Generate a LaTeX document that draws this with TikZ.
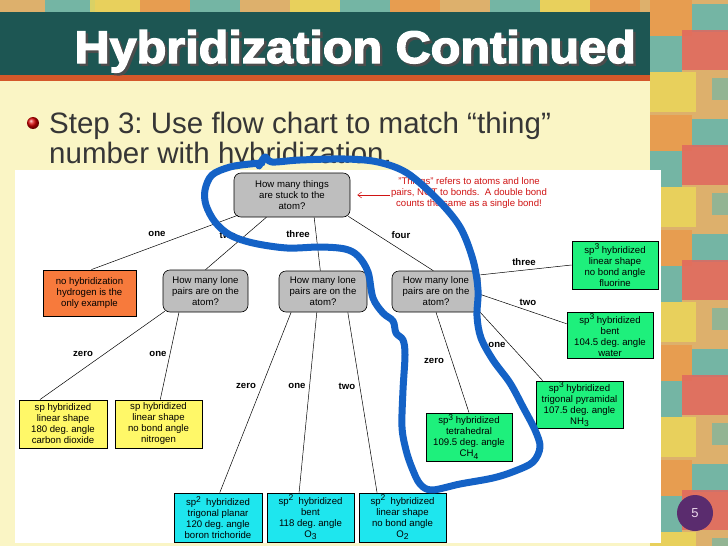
\documentclass[tikz,border=0pt]{standalone}
\usepackage{fontspec}
\setmainfont{Liberation Sans}
\newfontfamily\titlefont[FakeBold=3]{Liberation Sans Bold}
\usetikzlibrary{calc,arrows.meta,shadings}
\definecolor{bannerC}{HTML}{1D5653}
\definecolor{stripeC}{HTML}{D4582A}
\definecolor{paleC}{HTML}{FAF5C5}
\definecolor{qgray}{HTML}{BEBEBE}
\definecolor{orangeBox}{HTML}{F77A3C}
\definecolor{yellowBox}{HTML}{FFF868}
\definecolor{cyanBox}{HTML}{1EE6EE}
\definecolor{greenBox}{HTML}{1EF07C}
\definecolor{noteRed}{HTML}{D01414}
\definecolor{loopBlue}{HTML}{1462C6}
\definecolor{textGray}{HTML}{363636}
\definecolor{pTan}{HTML}{DDB06C}
\definecolor{pTeal}{HTML}{62B7AE}
\definecolor{pRed}{HTML}{E0675F}
\definecolor{pYellow}{HTML}{EBD65A}
\definecolor{pOrange}{HTML}{E99A4C}
\definecolor{numC}{HTML}{5A2C6E}
\newcommand\boxfont{\fontsize{9.6}{11}\selectfont}
\newcommand\lblfont{\bfseries\fontsize{9.6}{10}\selectfont}
\newcommand\hup[1]{\raisebox{3.2pt}{\fontsize{8.5}{8.5}\selectfont #1}}
\newcommand\hdown[1]{\raisebox{-2.8pt}{\fontsize{8.5}{8.5}\selectfont #1}}
\newcommand\titletext{\resizebox{561pt}{33pt}{\titlefont Hybridization Continued}}
\tikzset{
  qbox/.style={draw=black, line width=0.6pt, fill=qgray, rounded corners=7pt, align=center, inner sep=0pt, font=\boxfont},
  rbox/.style={draw=black, line width=0.8pt, align=center, inner sep=0pt, font=\boxfont},
  link/.style={draw=black, line width=0.5pt},
  lbl/.style={font=\lblfont, inner sep=0pt},
  patch/.style={draw=none, opacity=0.85},
}
\begin{document}
\frenchspacing
\begin{tikzpicture}[x=1pt,y=-1pt]
\useasboundingbox (0,0) rectangle (728,546);
% background texture
\fill[pTan] (0,0) rectangle (728,546);
\foreach \y in {0,115,230,345,460}{
  \fill[patch,pOrange] (650,\y) rectangle (692,\y+36);
  \fill[patch,pTeal] (692,\y+4) rectangle (728,\y+32);
  \fill[patch,pTeal] (650,\y+36) rectangle (682,\y+72);
  \fill[patch,pRed] (682,\y+30) rectangle (728,\y+70);
  \fill[patch,pYellow] (650,\y+72) rectangle (696,\y+112);
  \fill[patch,pTan] (696,\y+70) rectangle (728,\y+115);
  \fill[patch,pTeal,opacity=0.6] (712,\y+78) rectangle (728,\y+100);
}
\foreach \x/\c in {0/pTan,45/pTeal,90/pYellow,140/pOrange,190/pTeal,240/pTan,290/pYellow,340/pTeal,390/pOrange,440/pTan,490/pTeal,540/pYellow,590/pOrange}{
  \fill[patch,\c] (\x,0) rectangle (\x+50,12);
}
% slide areas
\fill[paleC] (0,81) rectangle (650,546);
\fill[bannerC] (0,12) rectangle (650,75);
\fill[stripeC] (0,75) rectangle (650,81);
% title (white text with dark drop shadow in one node)
\node[anchor=base east, inner sep=0] (title) at (636,63)
  {\makebox[0pt][l]{\hspace{2.5pt}\raisebox{-2.5pt}{\color{black!70}\titletext}}\color{white}\titletext};
% bullet
\shade[ball color=red!85!black] (33,123) circle (6);
\node[anchor=base west, inner sep=0, text=textGray, font=\fontsize{29.5}{31}\selectfont] (line1) at (49,133)
  {Step 3: Use flow chart to match “thing”};
\node[anchor=base west, inner sep=0, text=textGray, font=\fontsize{29.5}{31}\selectfont] (line2) at (49,163)
  {number with hybridization.};
% white chart area
\fill[white] (15,170) rectangle (661,543);
% nodes
\node[qbox, minimum width=116, minimum height=44] (q0) at (292,195) {How many things\\are stuck to the\\atom?};
\node[qbox, minimum width=85, minimum height=42] (q1) at (205.5,291) {How many lone\\pairs are on the\\atom?};
\node[qbox, minimum width=88, minimum height=41] (q2) at (323,291.5) {How many lone\\pairs are on the\\atom?};
\node[qbox, minimum width=88, minimum height=41] (q3) at (436,291.5) {How many lone\\pairs are on the\\atom?};
\node[rbox, fill=orangeBox, minimum width=93, minimum height=46] (o) at (89.5,293) {no hybridization\\hydrogen is the\\only example};
\node[rbox, fill=yellowBox, minimum width=88, minimum height=48] (y1) at (63,424) {sp hybridized\\linear shape\\180 deg. angle\\carbon dioxide};
\node[rbox, fill=yellowBox, minimum width=87, minimum height=48] (y2) at (158.5,424) {sp hybridized\\linear shape\\no bond angle\\nitrogen};
\node[rbox, fill=cyanBox, minimum width=88, minimum height=49] (c1) at (218,517.5) {sp\hup{2}~ hybridized\\trigonal planar\\120 deg. angle\\boron trichoride};
\node[rbox, fill=cyanBox, minimum width=87, minimum height=49] (c2) at (310.5,517.5) {sp\hup{2}~ hybridized\\bent\\118 deg. angle\\O\hdown{3}};
\node[rbox, fill=cyanBox, minimum width=87, minimum height=49] (c3) at (402.5,517.5) {sp\hup{2}~ hybridized\\linear shape\\no bond angle\\O\hdown{2}};
\node[rbox, fill=greenBox, minimum width=86, minimum height=48] (g1) at (615,265) {sp\hup{3} hybridized\\linear shape\\no bond angle\\fluorine};
\node[rbox, fill=greenBox, minimum width=86, minimum height=46] (g2) at (610,335) {sp\hup{3} hybridized\\bent\\104.5 deg. angle\\water};
\node[rbox, fill=greenBox, minimum width=87, minimum height=47] (g3) at (579.5,404.5) {sp\hup{3} hybridized\\trigonal pyramidal\\107.5 deg. angle\\NH\hdown{3}};
\node[rbox, fill=greenBox, minimum width=86, minimum height=48] (g4) at (469,437) {sp\hup{3} hybridized\\tetrahedral\\109.5 deg. angle\\CH\hdown{4}};
% note
\node[align=center, inner sep=0, text=noteRed, font=\boxfont] (note) at (469,193)
  {"Things" refers to atoms and lone\\pairs, NOT to bonds.~ A double bond\\counts the same as a single bond!};
\draw[noteRed, line width=0.5pt, -{Straight Barb[length=4pt,width=6pt]}] ($(note.west)+(-1,2)$) -- ($(q0.east)+(7,0)$);
% connectors
\draw[link] ($(q0.south west)+(4,-2)$) -- ($(o.north west)!0.52!(o.north east)$);
\draw[link] ($(q0.south west)!0.28!(q0.south east)$) -- (q1.north);
\draw[link] ($(q0.south west)!0.69!(q0.south east)$) -- ($(q2.north west)!0.47!(q2.north east)$);
\draw[link] ($(q0.south east)+(-2,-1)$) -- ($(q3.north west)!0.47!(q3.north east)$);
\draw[link] ($(q1.south west)+(2,-1)$) -- ($(y1.north west)!0.24!(y1.north east)$);
\draw[link] ($(q1.south west)!0.19!(q1.south east)$) -- ($(y2.north west)!0.52!(y2.north east)$);
\draw[link] ($(q2.south west)!0.14!(q2.south east)$) -- ($(c1.north west)!0.52!(c1.north east)$);
\draw[link] ($(q2.south west)!0.43!(q2.south east)$) -- ($(c2.north west)!0.37!(c2.north east)$);
\draw[link] ($(q2.south west)!0.78!(q2.south east)$) -- ($(c3.north west)!0.21!(c3.north east)$);
\draw[link] ($(q3.north east)!0.1!(q3.south east)$) -- (g1.west);
\draw[link] ($(q3.north east)!0.57!(q3.south east)$) -- ($(g2.north west)!0.26!(g2.south west)$);
\draw[link] ($(q3.south east)+(-1,-1)$) -- ($(g3.north west)!0.08!(g3.north east)$);
\draw[link] (q3.south) -- (g4.north);
% labels
\node[lbl] (l1) at (157,234) {one};
\node[lbl] (l2) at (228,235) {two};
\node[lbl] (l3) at (298,234) {three};
\node[lbl] (l4) at (401,235) {four};
\node[lbl] (l5) at (83,354) {zero};
\node[lbl] (l6) at (158,354) {one};
\node[lbl] (l7) at (246,386) {zero};
\node[lbl] (l8) at (297,386) {one};
\node[lbl] (l9) at (347,386) {two};
\node[lbl] (l10) at (524,262) {three};
\node[lbl] (l11) at (528,302) {two};
\node[lbl] (l12) at (497,345) {one};
\node[lbl] (l13) at (434,361) {zero};
% hand-drawn loop
\draw[loopBlue, line width=7pt, line cap=round, line join=round] plot[smooth, tension=0.55] coordinates {
 (259,166) (265,157) (272,162) (300,160) (345,159) (378,162) (407,173) (437,199) (460,227)
 (473,260) (478,290) (477,316) (481,338) (493,360) (510,383) (523,407) (535,430) (540,447)
 (533,462) (515,471) (493,478) (460,484) (432,490) (420,484) (412,468) (406,450) (402,427)
 (403,390) (405,355) (403,340) (396,333) (393,321) (383,313) (373,298) (368,272) (358,256)
 (345,249) (320,247) (287,248) (253,243) (230,235) (215,222) (206,205) (205,190) (212,175)
 (230,167) (250,164) (262,163)};
% page number
\node[circle, fill=numC, minimum size=36pt, inner sep=0, text=violet!15, font=\fontsize{13}{13}\selectfont] (pg) at (695,513) {5};
\end{tikzpicture}
\end{document}
